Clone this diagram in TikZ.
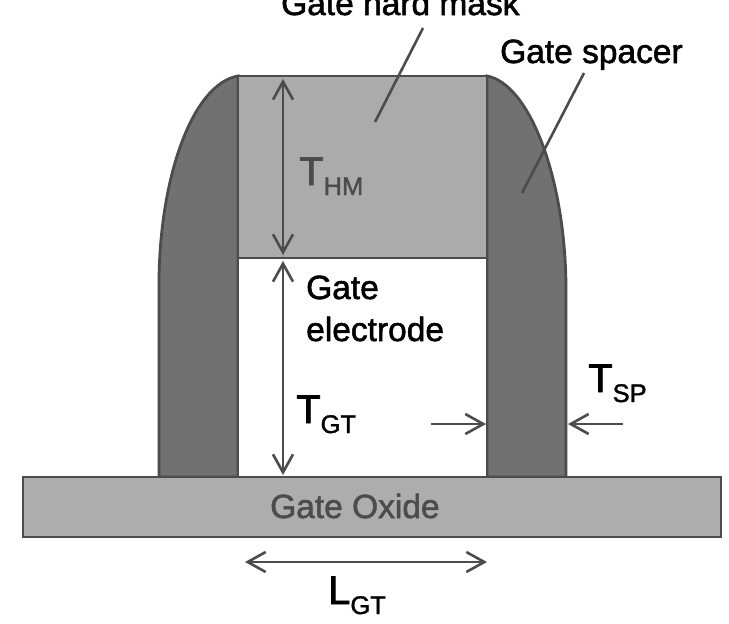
\documentclass[tikz,border=0pt]{standalone}
\usepackage{fontspec}
\setmainfont[RawFeature={embolden=1.6}]{Liberation Sans}
\usetikzlibrary{arrows.meta}

\definecolor{linegray}{HTML}{4C4C4C}
\definecolor{spacergray}{HTML}{717171}
\definecolor{maskgray}{HTML}{ABABAB}
\definecolor{oxidegray}{HTML}{ADADAD}

\newcommand{\symb}[2]{\fontsize{40}{40}\selectfont #1\raisebox{-10pt}{\fontsize{25.5}{25.5}\selectfont #2}}

\tikzset{
	part/.style={draw=linegray,line width=2.8pt,inner sep=0pt,outer sep=0pt},
	dimarrow/.style={draw=linegray,line width=2.6pt,{Straight Barb[length=18pt,width=20pt]}-{Straight Barb[length=18pt,width=20pt]}},
	onearrow/.style={draw=linegray,line width=2.6pt,-{Straight Barb[length=18pt,width=20pt]}},
	leader/.style={draw=linegray,line width=2.6pt},
	lbl/.style={font=\fontsize{33.5}{42}\selectfont,inner sep=0pt,anchor=base west}
}

\begin{document}
\begin{tikzpicture}[x=1pt,y=-1pt]
\useasboundingbox (0,0) rectangle (729,624);
\clip (0,0) rectangle (729,624);
% spacers
\draw[part,fill=spacergray] (238,76) .. controls (192,84) and (158,180) .. (159,290) -- (159,477) -- (238,477) -- cycle;
\draw[part,fill=spacergray] (487,76) .. controls (530,84) and (566,180) .. (566,290) -- (566,477) -- (487,477) -- cycle;
% stack
\node[part,fill=maskgray,minimum width=249pt,minimum height=182pt] (mask) at (362.5,167) {};
\node[part,fill=white,minimum width=249pt,minimum height=219pt] (electrode) at (362.5,367.5) {};
\node[part,fill=oxidegray,minimum width=698pt,minimum height=60pt] (oxide) at (372,507) {};
% labels
\node[lbl] (masklbl) at (281,15) {Gate hard mask};
\node[lbl] (spacerlbl) at (500,63) {Gate spacer};
\node[lbl] (gatelbl) at (306,299) {Gate};
\node[lbl] (electrodelbl) at (306,341) {electrode};
\node[lbl,text=linegray] (oxidelbl) at (270,518) {Gate Oxide};
\node[lbl,text=linegray] (thm) at (299,185) {\symb{T}{HM}};
\node[lbl] (tgt) at (296,423) {\symb{T}{GT}};
\node[lbl] (tsp) at (588,392) {\symb{T}{SP}};
\node[lbl] (lgt) at (328,604) {\symb{L}{GT}};
% leaders
\coordinate (maskend) at (423,28);
\coordinate (masktip) at (375,122);
\coordinate (spacerend) at (584,73);
\coordinate (spacertip) at (522,193);
\draw[leader] (maskend) -- (masktip);
\draw[leader] (spacerend) -- (spacertip);
% dimensions
\coordinate (thmtop) at (283,79);
\coordinate (thmbot) at (283,255);
\coordinate (tgttop) at (283,261);
\coordinate (tgtbot) at (283,475);
\coordinate (lgtleft) at (245,562);
\coordinate (lgtright) at (487,562);
\coordinate (tspa) at (431,424);
\coordinate (tspb) at (486,424);
\coordinate (tspc) at (623,424);
\coordinate (tspd) at (568,424);
\draw[dimarrow] (thmtop) -- (thmbot);
\draw[dimarrow] (tgttop) -- (tgtbot);
\draw[dimarrow] (lgtleft) -- (lgtright);
\draw[onearrow] (tspa) -- (tspb);
\draw[onearrow] (tspc) -- (tspd);
\end{tikzpicture}
\end{document}
